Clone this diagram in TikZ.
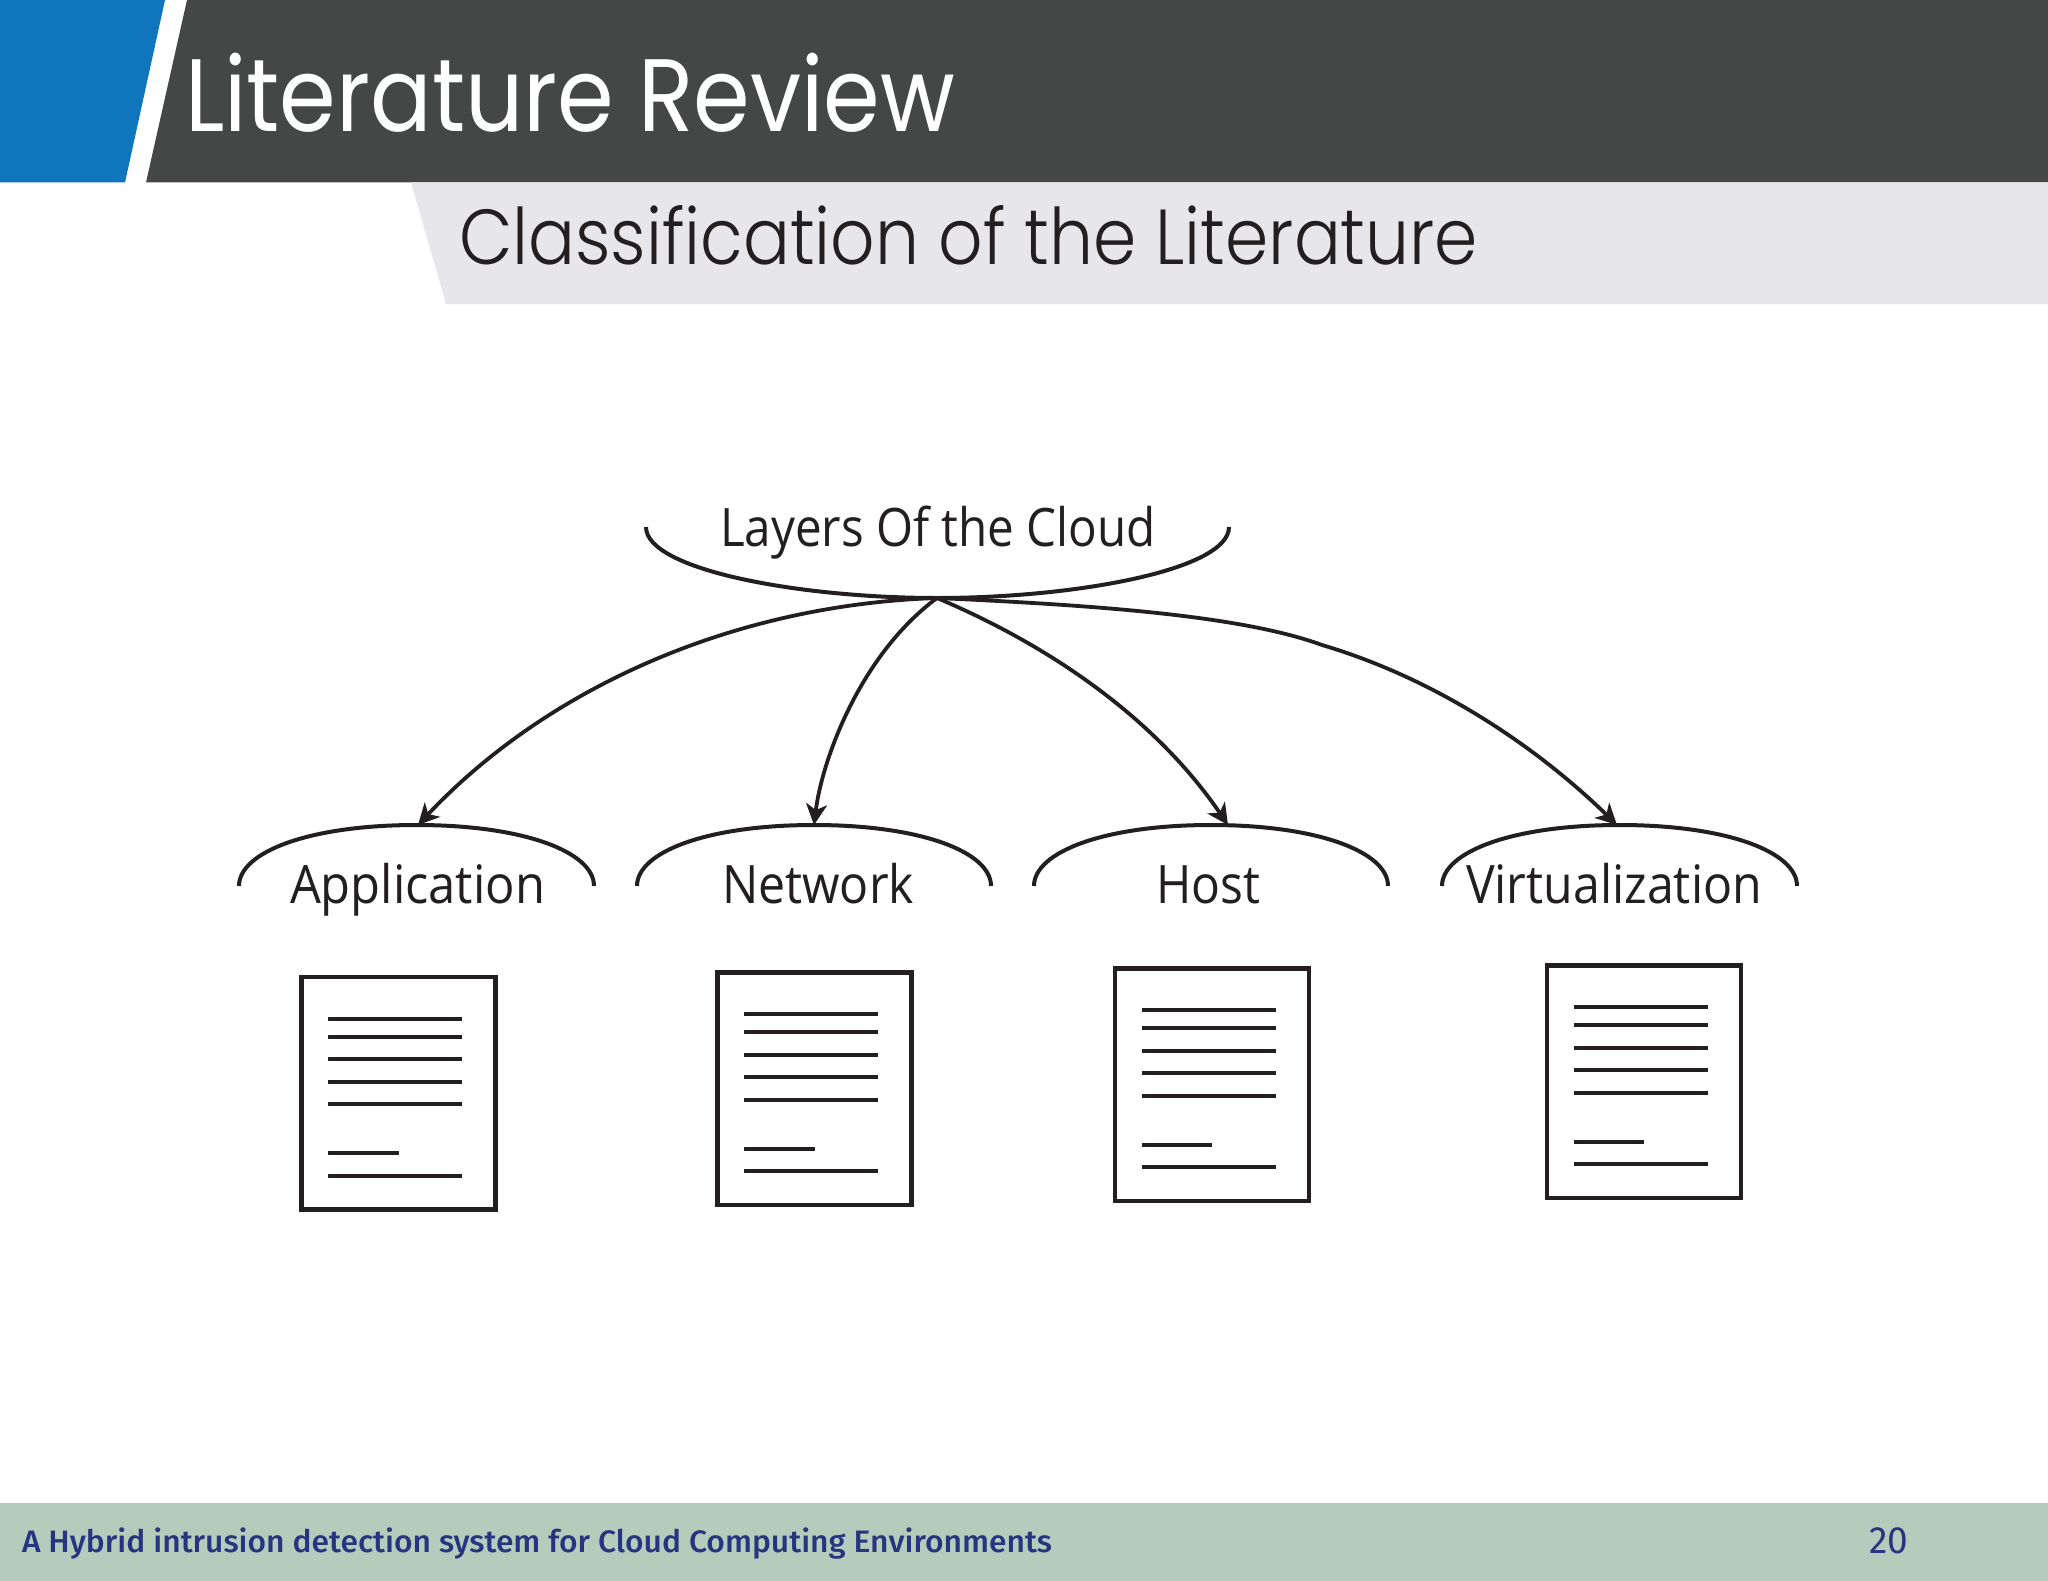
\documentclass[tikz,border=0pt]{standalone}
\usepackage{fontspec}
\usepackage{graphicx}
\usetikzlibrary{arrows.meta,calc}
\setmainfont{Lato}
\newfontfamily\titlefont{Poppins}
\newfontfamily\subfont{Poppins Light}
\newfontfamily\labelfont{Open Sans}
\newfontfamily\footfont{Fira Sans Medium}
\newfontfamily\pagefont{Fira Sans}
\newcommand\fitw[2]{\resizebox{#1pt}{\height}{#2}}
\definecolor{headdark}{HTML}{454746}
\definecolor{headblue}{HTML}{0F75BC}
\definecolor{subgrey}{HTML}{E7E6EA}
\definecolor{footgreen}{HTML}{B3CCBC}
\definecolor{footnavy}{HTML}{27347F}
\definecolor{inkblack}{HTML}{231F20}
\tikzset{
  txt/.style={anchor=base west,inner sep=0pt,outer sep=0pt},
  titletxt/.style={txt,text=white,font=\titlefont\fontsize{103}{103}\selectfont},
  subtxt/.style={txt,text=inkblack,font=\subfont\fontsize{78}{78}\selectfont},
  labeltxt/.style={txt,text=inkblack,font=\labelfont\fontsize{53}{53}\selectfont},
  foottxt/.style={txt,text=footnavy,font=\footfont\fontsize{31}{31}\selectfont},
  pagetxt/.style={txt,text=footnavy,font=\pagefont\fontsize{38}{38}\selectfont},
  arcline/.style={draw=inkblack,line width=4pt},
  linkline/.style={draw=inkblack,line width=3.8pt,-{Stealth[length=21pt,width=21pt,inset=6pt]}},
  docbox/.style={draw=inkblack,line width=4.2pt,fill=white},
  docline/.style={draw=inkblack,line width=4pt},
}
\newcommand\capsarc[3]{% left x, right x, name of top
  \path let \n1={(#1+#2)/2} in coordinate (#3) at (\n1,825);
  \draw[arcline] (#1,886) .. controls (#1,852) and ({#1+70},825) .. (#3) .. controls ({#2-70},825) and (#2,852) .. (#2,886);
}
\newcommand\docicon[3]{% left, top, name
  \node[docbox,anchor=north west,minimum width=194pt,minimum height=232.5pt,inner sep=0pt,outer sep=0pt] (#3) at ({#1+1},{#2+1}) {};
  \foreach \yy in {42.5,60.5,83,105.5,128,199.5}
    \draw[docline] ({#1+27.5},{#2+\yy}) -- ({#1+161.5},{#2+\yy});
  \draw[docline] ({#1+27.5},{#2+177}) -- ({#1+98},{#2+177});
}
\begin{document}
\begin{tikzpicture}[x=1pt,y=-1pt]
\useasboundingbox (0,0) rectangle (2048,1581);
\fill[white] (0,0) rectangle (2048,1581);
\fill[headblue] (0,0) -- (165,0) -- (125,182.5) -- (0,182.5) -- cycle;
\fill[headdark] (187,0) -- (2048,0) -- (2048,182.5) -- (146,182.5) -- cycle;
\fill[subgrey] (411,182.5) -- (2048,182.5) -- (2048,304) -- (446,304) -- cycle;
\fill[footgreen] (0,1503) rectangle (2048,1581);
\node[titletxt] (title) at (185,132) {\fitw{770}{Literature Review}};
\node[subtxt] (subtitle) at (459,264) {\fitw{1019}{Classification of the Literature}};
\node[labeltxt] (layers) at (720,546) {\fitw{436}{Layers Of the Cloud}};
\node[labeltxt] (app) at (290,903) {\fitw{255}{Application}};
\node[labeltxt] (net) at (722,903) {\fitw{192}{Network}};
\node[labeltxt] (host) at (1156,903) {\fitw{104}{Host}};
\node[labeltxt] (virt) at (1466,903) {\fitw{296}{Virtualization}};
\node[foottxt] (foot) at (22,1552) {\fitw{1030}{A Hybrid intrusion detection system for Cloud Computing Environments}};
\node[pagetxt] (page) at (1869,1553) {\fitw{39}{20}};
% top arc
\coordinate (src) at (937,598);
\draw[arcline] (646,527) .. controls (646,570) and (800,598) .. (src) .. controls (1075,598) and (1229,570) .. (1229,527);
% lower arcs
\capsarc{239}{594}{appTop}
\capsarc{637}{991}{netTop}
\capsarc{1034}{1388}{hostTop}
\capsarc{1442}{1797}{virtTop}
% connectors
\coordinate (appTip) at (418,825);
\coordinate (netTip) at (814,825);
\coordinate (hostTip) at (1228,825);
\coordinate (virtTip) at (1617,825);
\coordinate (virtVia) at (1322,645);
\draw[linkline] (src) .. controls (730,605) and (545,690) .. (appTip);
\draw[linkline] (src) .. controls (860,655) and (822,760) .. (netTip);
\draw[linkline] (src) .. controls (1060,650) and (1160,725) .. (hostTip);
\draw[linkline] (src) .. controls (1090,605) and (1240,615) .. (virtVia) .. controls (1440,680) and (1540,750) .. (virtTip);
% documents
\docicon{300.5}{976}{docA}
\docicon{716.5}{971.5}{docB}
\docicon{1114}{967.5}{docC}
\docicon{1546}{964.5}{docD}
\end{tikzpicture}
\end{document}
